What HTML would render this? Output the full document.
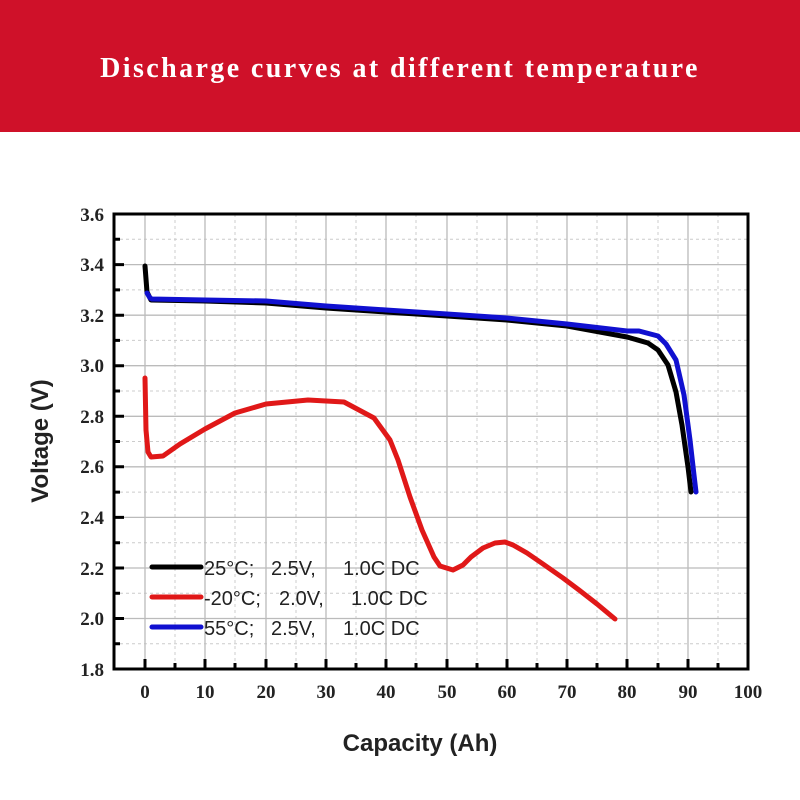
<!DOCTYPE html>
<html><head><meta charset="utf-8"><style>
body{margin:0;width:800px;height:800px;background:#fff;overflow:hidden}
.ban{position:absolute;left:0;top:0;width:800px;height:132px;background:#cf1129;color:#fff;font:bold 28px "Liberation Serif",serif;letter-spacing:2.4px;text-align:center;line-height:138px}
svg{position:absolute;left:0;top:0}
</style></head><body>
<div class="ban">Discharge curves at different temperature</div>
<svg width="800" height="800" viewBox="0 0 800 800">
<g stroke="#ccc" stroke-width="1" stroke-dasharray="3,3">
<line x1="175" y1="214" x2="175" y2="669"/><line x1="235" y1="214" x2="235" y2="669"/><line x1="296" y1="214" x2="296" y2="669"/><line x1="356" y1="214" x2="356" y2="669"/><line x1="416" y1="214" x2="416" y2="669"/><line x1="477" y1="214" x2="477" y2="669"/><line x1="537" y1="214" x2="537" y2="669"/><line x1="597" y1="214" x2="597" y2="669"/><line x1="658" y1="214" x2="658" y2="669"/><line x1="718" y1="214" x2="718" y2="669"/>
<line x1="114" y1="239.3" x2="748" y2="239.3"/><line x1="114" y1="289.9" x2="748" y2="289.9"/><line x1="114" y1="340.4" x2="748" y2="340.4"/><line x1="114" y1="391" x2="748" y2="391"/><line x1="114" y1="441.5" x2="748" y2="441.5"/><line x1="114" y1="492.1" x2="748" y2="492.1"/><line x1="114" y1="542.7" x2="748" y2="542.7"/><line x1="114" y1="593.2" x2="748" y2="593.2"/><line x1="114" y1="643.8" x2="748" y2="643.8"/>
</g>
<g stroke="#bbb" stroke-width="1.3">
<line x1="145" y1="214" x2="145" y2="669"/><line x1="205" y1="214" x2="205" y2="669"/><line x1="266" y1="214" x2="266" y2="669"/><line x1="326" y1="214" x2="326" y2="669"/><line x1="386" y1="214" x2="386" y2="669"/><line x1="447" y1="214" x2="447" y2="669"/><line x1="507" y1="214" x2="507" y2="669"/><line x1="567" y1="214" x2="567" y2="669"/><line x1="627" y1="214" x2="627" y2="669"/><line x1="688" y1="214" x2="688" y2="669"/>
<line x1="114" y1="264.6" x2="748" y2="264.6"/><line x1="114" y1="315.2" x2="748" y2="315.2"/><line x1="114" y1="365.7" x2="748" y2="365.7"/><line x1="114" y1="416.3" x2="748" y2="416.3"/><line x1="114" y1="466.8" x2="748" y2="466.8"/><line x1="114" y1="517.4" x2="748" y2="517.4"/><line x1="114" y1="568" x2="748" y2="568"/><line x1="114" y1="618.5" x2="748" y2="618.5"/>
</g>
<g stroke="#000" stroke-width="3">
<path d="M145 669v-10M205 669v-10M266 669v-10M326 669v-10M386 669v-10M447 669v-10M507 669v-10M567 669v-10M627 669v-10M688 669v-10M175 669v-6M235 669v-6M296 669v-6M356 669v-6M416 669v-6M477 669v-6M537 669v-6M597 669v-6M658 669v-6M718 669v-6"/>
<path d="M114 264.6h10M114 315.2h10M114 365.7h10M114 416.3h10M114 466.8h10M114 517.4h10M114 568h10M114 618.5h10M114 239.3h6M114 289.9h6M114 340.4h6M114 391h6M114 441.5h6M114 492.1h6M114 542.7h6M114 593.2h6M114 643.8h6"/>
<rect x="114" y="214" width="634" height="455" fill="none"/>
</g>
<g fill="none" stroke-width="5" stroke-linejoin="round" stroke-linecap="round">
<path stroke="#000" d="M145 266 L147 292 L150 298 L151 300 L205 301 L266 303 L326 308 L386 312 L447 316 L507 320 L567 326 L627 337 L648 343 L658 350 L668 365 L676 392 L682 425 L688 467 L691 492"/>
<path stroke="#1010d0" d="M147 293 L150 298 L152 299 L205 300 L266 301 L326 306 L386 310 L447 314 L507 318 L567 324 L627 331 L639 331 L658 336 L666 344 L676 360 L684 395 L690 440 L694 475 L696 492"/>
<path stroke="#e01818" d="M145 378 L146 430 L148 452 L151 457 L163 456 L180 444 L205 429 L235 413 L266 404 L308 400 L344 402 L374 418 L390 440 L398 460 L410 497 L422 530 L434 557 L440 566 L453 570 L463 565 L471 557 L483 548 L495 543 L505 542 L513 545 L527 553 L543 564 L563 578 L579 590 L597 604 L615 619"/>
</g>
<g stroke-width="5" stroke-linecap="round">
<line x1="152" y1="567" x2="201" y2="567" stroke="#000"/>
<line x1="152" y1="597" x2="201" y2="597" stroke="#e01818"/>
<line x1="152" y1="627" x2="201" y2="627" stroke="#1010d0"/>
</g>
<g font-family="Liberation Sans,sans-serif" font-size="20" fill="#222">
<text y="575"><tspan x="204">25°C;</tspan><tspan x="271">2.5V,</tspan><tspan x="343">1.0C DC</tspan></text>
<text y="605"><tspan x="204">-20°C;</tspan><tspan x="279">2.0V,</tspan><tspan x="351">1.0C DC</tspan></text>
<text y="635"><tspan x="204">55°C;</tspan><tspan x="271">2.5V,</tspan><tspan x="343">1.0C DC</tspan></text>
</g>
<g font-family="Liberation Serif,serif" font-weight="bold" font-size="19" fill="#222" text-anchor="end">
<text x="104" y="221">3.6</text><text x="104" y="271">3.4</text><text x="104" y="322">3.2</text><text x="104" y="372">3.0</text><text x="104" y="423">2.8</text><text x="104" y="473">2.6</text><text x="104" y="524">2.4</text><text x="104" y="575">2.2</text><text x="104" y="625">2.0</text><text x="104" y="676">1.8</text>
</g>
<g font-family="Liberation Serif,serif" font-weight="bold" font-size="19" fill="#222" text-anchor="middle">
<text x="145" y="698">0</text><text x="205" y="698">10</text><text x="266" y="698">20</text><text x="326" y="698">30</text><text x="386" y="698">40</text><text x="447" y="698">50</text><text x="507" y="698">60</text><text x="567" y="698">70</text><text x="627" y="698">80</text><text x="688" y="698">90</text><text x="748" y="698">100</text>
</g>
<text x="420" y="751" text-anchor="middle" font-family="Liberation Sans,sans-serif" font-weight="bold" font-size="24" fill="#222">Capacity (Ah)</text>
<text transform="translate(48,441) rotate(-90)" text-anchor="middle" font-family="Liberation Sans,sans-serif" font-weight="bold" font-size="24" fill="#222">Voltage (V)</text>
</svg>
</body></html>
